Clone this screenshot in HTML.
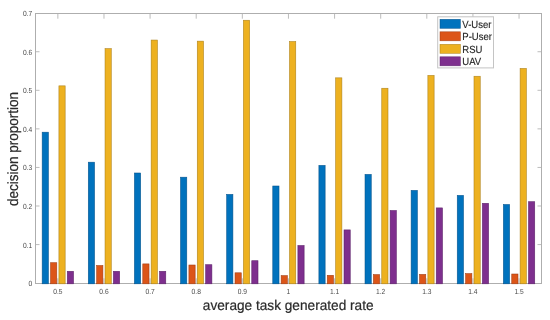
<!DOCTYPE html>
<html><head><meta charset="utf-8"><title>decision proportion</title>
<style>
html,body{margin:0;padding:0;background:#fff;}
body{width:550px;height:320px;overflow:hidden;}
svg{display:block;}
text{font-family:"Liberation Sans",Arial,Helvetica,sans-serif;fill:#3a3a3a;text-rendering:geometricPrecision;}
.tk{font-size:7.4px;fill:#4a4a4a;}
.lb{font-size:13.5px;fill:#2a2a2a;stroke:#2a2a2a;stroke-width:0.2px;}
.lg{font-size:10.3px;fill:#262626;stroke:#262626;stroke-width:0.15px;}
</style></head><body>
<svg width="550" height="320" viewBox="0 0 550 320">
<rect x="0" y="0" width="550" height="320" fill="#fff"/>

<g stroke="#b0b0b0" stroke-width="0.85" fill="none">
<line x1="57.85" y1="283.5" x2="57.85" y2="278.3"/>
<line x1="57.85" y1="13.5" x2="57.85" y2="18.7"/>
<line x1="103.97" y1="283.5" x2="103.97" y2="278.3"/>
<line x1="103.97" y1="13.5" x2="103.97" y2="18.7"/>
<line x1="150.09" y1="283.5" x2="150.09" y2="278.3"/>
<line x1="150.09" y1="13.5" x2="150.09" y2="18.7"/>
<line x1="196.21" y1="283.5" x2="196.21" y2="278.3"/>
<line x1="196.21" y1="13.5" x2="196.21" y2="18.7"/>
<line x1="242.33" y1="283.5" x2="242.33" y2="278.3"/>
<line x1="242.33" y1="13.5" x2="242.33" y2="18.7"/>
<line x1="288.45" y1="283.5" x2="288.45" y2="278.3"/>
<line x1="288.45" y1="13.5" x2="288.45" y2="18.7"/>
<line x1="334.57" y1="283.5" x2="334.57" y2="278.3"/>
<line x1="334.57" y1="13.5" x2="334.57" y2="18.7"/>
<line x1="380.69" y1="283.5" x2="380.69" y2="278.3"/>
<line x1="380.69" y1="13.5" x2="380.69" y2="18.7"/>
<line x1="426.81" y1="283.5" x2="426.81" y2="278.3"/>
<line x1="426.81" y1="13.5" x2="426.81" y2="18.7"/>
<line x1="472.93" y1="283.5" x2="472.93" y2="278.3"/>
<line x1="472.93" y1="13.5" x2="472.93" y2="18.7"/>
<line x1="519.05" y1="283.5" x2="519.05" y2="278.3"/>
<line x1="519.05" y1="13.5" x2="519.05" y2="18.7"/>
<line x1="35.5" y1="283.50" x2="39.5" y2="283.50"/>
<line x1="541.5" y1="283.50" x2="537.5" y2="283.50"/>
<line x1="35.5" y1="244.58" x2="39.5" y2="244.58"/>
<line x1="541.5" y1="244.58" x2="537.5" y2="244.58"/>
<line x1="35.5" y1="206.01" x2="39.5" y2="206.01"/>
<line x1="541.5" y1="206.01" x2="537.5" y2="206.01"/>
<line x1="35.5" y1="167.44" x2="39.5" y2="167.44"/>
<line x1="541.5" y1="167.44" x2="537.5" y2="167.44"/>
<line x1="35.5" y1="128.87" x2="39.5" y2="128.87"/>
<line x1="541.5" y1="128.87" x2="537.5" y2="128.87"/>
<line x1="35.5" y1="90.30" x2="39.5" y2="90.30"/>
<line x1="541.5" y1="90.30" x2="537.5" y2="90.30"/>
<line x1="35.5" y1="51.73" x2="39.5" y2="51.73"/>
<line x1="541.5" y1="51.73" x2="537.5" y2="51.73"/>
<line x1="35.5" y1="13.51" x2="39.5" y2="13.51"/>
<line x1="541.5" y1="13.51" x2="537.5" y2="13.51"/>
</g>
<rect x="35.5" y="13.5" width="506" height="270" fill="none" stroke="#aeaeae" stroke-width="1"/>
<rect x="42.17" y="132.20" width="6.25" height="151.60" fill="#0072BD" stroke="#00508a" stroke-width="0.6" stroke-opacity="0.9"/>
<rect x="50.54" y="262.70" width="6.25" height="21.10" fill="#DC5518" stroke="#9c3a10" stroke-width="0.6" stroke-opacity="0.9"/>
<rect x="58.91" y="85.85" width="6.25" height="197.95" fill="#EDB120" stroke="#a87c14" stroke-width="0.6" stroke-opacity="0.9"/>
<rect x="67.28" y="271.30" width="6.25" height="12.50" fill="#7E2F8E" stroke="#591f66" stroke-width="0.6" stroke-opacity="0.9"/>
<rect x="88.29" y="162.20" width="6.25" height="121.60" fill="#0072BD" stroke="#00508a" stroke-width="0.6" stroke-opacity="0.9"/>
<rect x="96.66" y="265.50" width="6.25" height="18.30" fill="#DC5518" stroke="#9c3a10" stroke-width="0.6" stroke-opacity="0.9"/>
<rect x="105.03" y="48.65" width="6.25" height="235.15" fill="#EDB120" stroke="#a87c14" stroke-width="0.6" stroke-opacity="0.9"/>
<rect x="113.40" y="271.30" width="6.25" height="12.50" fill="#7E2F8E" stroke="#591f66" stroke-width="0.6" stroke-opacity="0.9"/>
<rect x="134.41" y="173.00" width="6.25" height="110.80" fill="#0072BD" stroke="#00508a" stroke-width="0.6" stroke-opacity="0.9"/>
<rect x="142.78" y="263.90" width="6.25" height="19.90" fill="#DC5518" stroke="#9c3a10" stroke-width="0.6" stroke-opacity="0.9"/>
<rect x="151.15" y="40.05" width="6.25" height="243.75" fill="#EDB120" stroke="#a87c14" stroke-width="0.6" stroke-opacity="0.9"/>
<rect x="159.52" y="271.30" width="6.25" height="12.50" fill="#7E2F8E" stroke="#591f66" stroke-width="0.6" stroke-opacity="0.9"/>
<rect x="180.53" y="177.20" width="6.25" height="106.60" fill="#0072BD" stroke="#00508a" stroke-width="0.6" stroke-opacity="0.9"/>
<rect x="188.90" y="265.00" width="6.25" height="18.80" fill="#DC5518" stroke="#9c3a10" stroke-width="0.6" stroke-opacity="0.9"/>
<rect x="197.27" y="41.15" width="6.25" height="242.65" fill="#EDB120" stroke="#a87c14" stroke-width="0.6" stroke-opacity="0.9"/>
<rect x="205.64" y="264.70" width="6.25" height="19.10" fill="#7E2F8E" stroke="#591f66" stroke-width="0.6" stroke-opacity="0.9"/>
<rect x="226.65" y="194.40" width="6.25" height="89.40" fill="#0072BD" stroke="#00508a" stroke-width="0.6" stroke-opacity="0.9"/>
<rect x="235.02" y="272.80" width="6.25" height="11.00" fill="#DC5518" stroke="#9c3a10" stroke-width="0.6" stroke-opacity="0.9"/>
<rect x="243.39" y="20.25" width="6.25" height="263.55" fill="#EDB120" stroke="#a87c14" stroke-width="0.6" stroke-opacity="0.9"/>
<rect x="251.76" y="260.70" width="6.25" height="23.10" fill="#7E2F8E" stroke="#591f66" stroke-width="0.6" stroke-opacity="0.9"/>
<rect x="272.77" y="186.00" width="6.25" height="97.80" fill="#0072BD" stroke="#00508a" stroke-width="0.6" stroke-opacity="0.9"/>
<rect x="281.14" y="275.60" width="6.25" height="8.20" fill="#DC5518" stroke="#9c3a10" stroke-width="0.6" stroke-opacity="0.9"/>
<rect x="289.51" y="41.55" width="6.25" height="242.25" fill="#EDB120" stroke="#a87c14" stroke-width="0.6" stroke-opacity="0.9"/>
<rect x="297.88" y="245.50" width="6.25" height="38.30" fill="#7E2F8E" stroke="#591f66" stroke-width="0.6" stroke-opacity="0.9"/>
<rect x="318.89" y="165.40" width="6.25" height="118.40" fill="#0072BD" stroke="#00508a" stroke-width="0.6" stroke-opacity="0.9"/>
<rect x="327.26" y="275.30" width="6.25" height="8.50" fill="#DC5518" stroke="#9c3a10" stroke-width="0.6" stroke-opacity="0.9"/>
<rect x="335.63" y="77.85" width="6.25" height="205.95" fill="#EDB120" stroke="#a87c14" stroke-width="0.6" stroke-opacity="0.9"/>
<rect x="344.00" y="229.90" width="6.25" height="53.90" fill="#7E2F8E" stroke="#591f66" stroke-width="0.6" stroke-opacity="0.9"/>
<rect x="365.01" y="174.40" width="6.25" height="109.40" fill="#0072BD" stroke="#00508a" stroke-width="0.6" stroke-opacity="0.9"/>
<rect x="373.38" y="274.60" width="6.25" height="9.20" fill="#DC5518" stroke="#9c3a10" stroke-width="0.6" stroke-opacity="0.9"/>
<rect x="381.75" y="88.25" width="6.25" height="195.55" fill="#EDB120" stroke="#a87c14" stroke-width="0.6" stroke-opacity="0.9"/>
<rect x="390.12" y="210.50" width="6.25" height="73.30" fill="#7E2F8E" stroke="#591f66" stroke-width="0.6" stroke-opacity="0.9"/>
<rect x="411.13" y="190.40" width="6.25" height="93.40" fill="#0072BD" stroke="#00508a" stroke-width="0.6" stroke-opacity="0.9"/>
<rect x="419.50" y="274.40" width="6.25" height="9.40" fill="#DC5518" stroke="#9c3a10" stroke-width="0.6" stroke-opacity="0.9"/>
<rect x="427.87" y="75.45" width="6.25" height="208.35" fill="#EDB120" stroke="#a87c14" stroke-width="0.6" stroke-opacity="0.9"/>
<rect x="436.24" y="207.90" width="6.25" height="75.90" fill="#7E2F8E" stroke="#591f66" stroke-width="0.6" stroke-opacity="0.9"/>
<rect x="457.25" y="195.40" width="6.25" height="88.40" fill="#0072BD" stroke="#00508a" stroke-width="0.6" stroke-opacity="0.9"/>
<rect x="465.62" y="273.60" width="6.25" height="10.20" fill="#DC5518" stroke="#9c3a10" stroke-width="0.6" stroke-opacity="0.9"/>
<rect x="473.99" y="76.25" width="6.25" height="207.55" fill="#EDB120" stroke="#a87c14" stroke-width="0.6" stroke-opacity="0.9"/>
<rect x="482.36" y="203.30" width="6.25" height="80.50" fill="#7E2F8E" stroke="#591f66" stroke-width="0.6" stroke-opacity="0.9"/>
<rect x="503.37" y="204.50" width="6.25" height="79.30" fill="#0072BD" stroke="#00508a" stroke-width="0.6" stroke-opacity="0.9"/>
<rect x="511.74" y="274.00" width="6.25" height="9.80" fill="#DC5518" stroke="#9c3a10" stroke-width="0.6" stroke-opacity="0.9"/>
<rect x="520.11" y="68.45" width="6.25" height="215.35" fill="#EDB120" stroke="#a87c14" stroke-width="0.6" stroke-opacity="0.9"/>
<rect x="528.48" y="201.70" width="6.25" height="82.10" fill="#7E2F8E" stroke="#591f66" stroke-width="0.6" stroke-opacity="0.9"/>
<text class="tk" transform="translate(57.85,293.7) scale(0.9,1)" text-anchor="middle">0.5</text>
<text class="tk" transform="translate(103.97,293.7) scale(0.9,1)" text-anchor="middle">0.6</text>
<text class="tk" transform="translate(150.09,293.7) scale(0.9,1)" text-anchor="middle">0.7</text>
<text class="tk" transform="translate(196.21,293.7) scale(0.9,1)" text-anchor="middle">0.8</text>
<text class="tk" transform="translate(242.33,293.7) scale(0.9,1)" text-anchor="middle">0.9</text>
<text class="tk" transform="translate(288.45,293.7) scale(0.9,1)" text-anchor="middle">1</text>
<text class="tk" transform="translate(334.57,293.7) scale(0.9,1)" text-anchor="middle">1.1</text>
<text class="tk" transform="translate(380.69,293.7) scale(0.9,1)" text-anchor="middle">1.2</text>
<text class="tk" transform="translate(426.81,293.7) scale(0.9,1)" text-anchor="middle">1.3</text>
<text class="tk" transform="translate(472.93,293.7) scale(0.9,1)" text-anchor="middle">1.4</text>
<text class="tk" transform="translate(519.05,293.7) scale(0.9,1)" text-anchor="middle">1.5</text>
<text class="tk" transform="translate(32.3,286.20) scale(0.9,1)" text-anchor="end">0</text>
<text class="tk" transform="translate(32.3,247.63) scale(0.9,1)" text-anchor="end">0.1</text>
<text class="tk" transform="translate(32.3,209.06) scale(0.9,1)" text-anchor="end">0.2</text>
<text class="tk" transform="translate(32.3,170.49) scale(0.9,1)" text-anchor="end">0.3</text>
<text class="tk" transform="translate(32.3,131.92) scale(0.9,1)" text-anchor="end">0.4</text>
<text class="tk" transform="translate(32.3,93.35) scale(0.9,1)" text-anchor="end">0.5</text>
<text class="tk" transform="translate(32.3,54.78) scale(0.9,1)" text-anchor="end">0.6</text>
<text class="tk" transform="translate(32.3,16.21) scale(0.9,1)" text-anchor="end">0.7</text>
<text class="lb" style="font-size:14px" transform="translate(288.2,309.7) scale(0.975,1)" text-anchor="middle">average task generated rate</text>
<text class="lb" style="font-size:14.8px" transform="translate(18.1,148.9) rotate(-90) scale(0.912,1)" text-anchor="middle">decision proportion</text>
<rect x="437.7" y="16.8" width="55.8" height="51.1" fill="#fff" stroke="#c4c4c4" stroke-width="1"/>
<rect x="440" y="19.30" width="20.4" height="9" fill="#0072BD" stroke="#00508a" stroke-width="0.6" stroke-opacity="0.8"/>
<text class="lg" transform="translate(462.3,27.55) scale(0.925,1)">V-User</text>
<rect x="440" y="31.80" width="20.4" height="9" fill="#DC5518" stroke="#9c3a10" stroke-width="0.6" stroke-opacity="0.8"/>
<text class="lg" transform="translate(462.3,40.05) scale(0.925,1)">P-User</text>
<rect x="440" y="44.30" width="20.4" height="9" fill="#EDB120" stroke="#a87c14" stroke-width="0.6" stroke-opacity="0.8"/>
<text class="lg" transform="translate(462.3,52.55) scale(0.925,1)">RSU</text>
<rect x="440" y="56.80" width="20.4" height="9" fill="#7E2F8E" stroke="#591f66" stroke-width="0.6" stroke-opacity="0.8"/>
<text class="lg" transform="translate(462.3,65.05) scale(0.925,1)">UAV</text>
</svg></body></html>
